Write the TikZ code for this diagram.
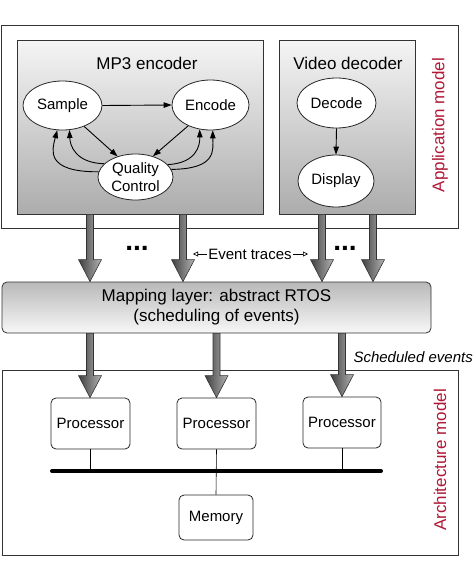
\documentclass[tikz,border=0pt]{standalone}
\usepackage{fontspec}
\setmainfont{Liberation Sans}
\usepackage{tikz}
\usetikzlibrary{positioning}
\usetikzlibrary{arrows.meta}
\usetikzlibrary{shapes.geometric}
\usetikzlibrary{calc}

\definecolor{modelred}{RGB}{175,25,55}

\newcommand{\fatarrow}[2]{%
    \path[bigflow] let \p1=(#1), \p2=(#2) in
        (\x1-3.5pt,\y1) -- (\x1-3.5pt,\y2+22pt) -- (\x1-11.5pt,\y2+22pt) -- (\x1,\y2)
        -- (\x1+11.5pt,\y2+22pt) -- (\x1+3.5pt,\y2+22pt) -- (\x1+3.5pt,\y1) -- cycle;}

\tikzset{
    task/.style={ellipse, draw=black!85, fill=white, line width=0.8pt, inner sep=0pt,
        minimum width=78pt, minimum height=49pt, font=\fontsize{15}{18}\selectfont},
    unit/.style={rectangle, rounded corners=5pt, draw=black!85, fill=white, line width=0.8pt,
        minimum width=79pt, minimum height=51pt, font=\fontsize{15}{18}\selectfont},
    frame/.style={rectangle, draw=black!80, line width=0.8pt, inner sep=0pt},
    flow/.style={-{Triangle[length=8pt,width=5.5pt]}, line width=0.9pt},
    bigflow/.style={draw=black!80, line width=0.6pt, left color=black!75, right color=black!30},
    title/.style={font=\fontsize{17}{20}\selectfont},
}

\begin{document}
\begin{tikzpicture}[x=1pt,y=-1pt]
                \useasboundingbox (0,0) rectangle (474,581);

                \node(app) [frame, minimum width=457pt, minimum height=203pt] at (229.5,126.5) {};
                \node(mp3) [frame, top color=gray!8, bottom color=gray!65, minimum width=246pt, minimum height=174pt] at (140,127) {};
                \node(vid) [frame, top color=gray!8, bottom color=gray!65, minimum width=136pt, minimum height=174pt] at (347,127) {};
                \node(mp3t) [title] at (147,63) {MP3 encoder};
                \node(vidt) [title] at (348,63) {Video decoder};
                \node(appl) [title, rotate=90, text=modelred] at (440,125) {Application model};

                \node(smp) [task, minimum width=79pt] at (62.5,105.5) {Sample};
                \node(enc) [task, minimum width=77pt, minimum height=50pt] at (210.5,105) {Encode};
                \node(qc) [task, minimum width=75pt, minimum height=46pt, align=center, font=\fontsize{15}{18}\selectfont] at (135.5,177) {Quality\\Control};
                \node(dec) [task, minimum width=79pt, minimum height=50pt] at (336.5,103) {Decode};
                \node(dsp) [task, minimum width=76pt, minimum height=52pt] at (336,181) {Display};

                \draw[flow] (smp.east) -- (enc.west);
                \draw[flow] (smp.-44) -- (qc.131);
                \draw[flow] (enc.-137) -- (qc.50);
                \draw[flow] (qc.172) .. controls (45,172) and (52,150) .. (smp.258);
                \draw[flow] (qc.157) .. controls (75,163) and (70,145) .. (smp.286);
                \draw[flow] (qc.21) .. controls (197,163) and (200,145) .. (enc.246);
                \draw[flow] (qc.12) .. controls (217,169) and (213,150) .. (enc.275);
                \draw[flow] (dec.south) -- (dsp.north);

                \node(map) [frame, rounded corners=5pt, top color=gray!55, bottom color=gray!6, minimum width=429pt, minimum height=51pt,
                    align=center, font=\fontsize{17}{20}\selectfont] at (216.5,307.5) {Mapping layer: abstract RTOS\\(scheduling of events)};

                \fatarrow{[xshift=-50pt]mp3.south}{map.north}
                \fatarrow{[xshift=43pt]mp3.south}{map.north}
                \fatarrow{[xshift=-25pt]vid.south}{map.north}
                \fatarrow{[xshift=26pt]vid.south}{map.north}

                \node(dotsl) [font=\fontsize{28}{28}\selectfont\bfseries] at (137,248) {...};
                \node(dotsr) [font=\fontsize{28}{28}\selectfont\bfseries] at (345,248) {...};
                \node(ev) [font=\fontsize{15}{18}\selectfont, inner sep=1.5pt] at (250,254) {Event traces};
                \coordinate(evl) at (193,254);
                \coordinate(evr) at (308,254);
                \draw[-{Triangle[open,length=5pt,width=5pt]}, line width=0.6pt] (ev.west) -- (evl);
                \draw[-{Triangle[open,length=5pt,width=5pt]}, line width=0.6pt] (ev.east) -- (evr);

                \node(sch) [anchor=east, inner sep=1pt, font=\fontsize{15}{18}\selectfont\itshape] at (474,357) {Scheduled events};

                \node(arch) [frame, minimum width=456pt, minimum height=185pt] at (230,462.5) {};
                \node(archl) [title, rotate=90, text=modelred] at (440,460) {Architecture model};

                \node(p1) [unit] at (90.5,423.5) {Processor};
                \node(p2) [unit] at (216.5,423.5) {Processor};
                \node(p3) [unit, minimum width=78pt] at (342,422.5) {Processor};
                \node(mem) [unit, minimum width=74pt, minimum height=45pt] at (216,517.5) {Memory};

                \fatarrow{[xshift=-126.5pt]map.south}{p1.north}
                \fatarrow{[xshift=0pt]map.south}{p2.north}
                \fatarrow{[xshift=125.5pt]map.south}{p3.north}

                \coordinate(busl) at (52,471);
                \coordinate(busr) at (381,471);
                \draw[line width=4pt, line cap=round] (busl) -- (busr);
                \draw[line width=0.6pt] (p1.south) -- (p1.south |- busl);
                \draw[line width=0.6pt] (p2.south) -- (mem.north);
                \draw[line width=0.6pt] (p3.south) -- (p3.south |- busl);
            \end{tikzpicture}
\end{document}
